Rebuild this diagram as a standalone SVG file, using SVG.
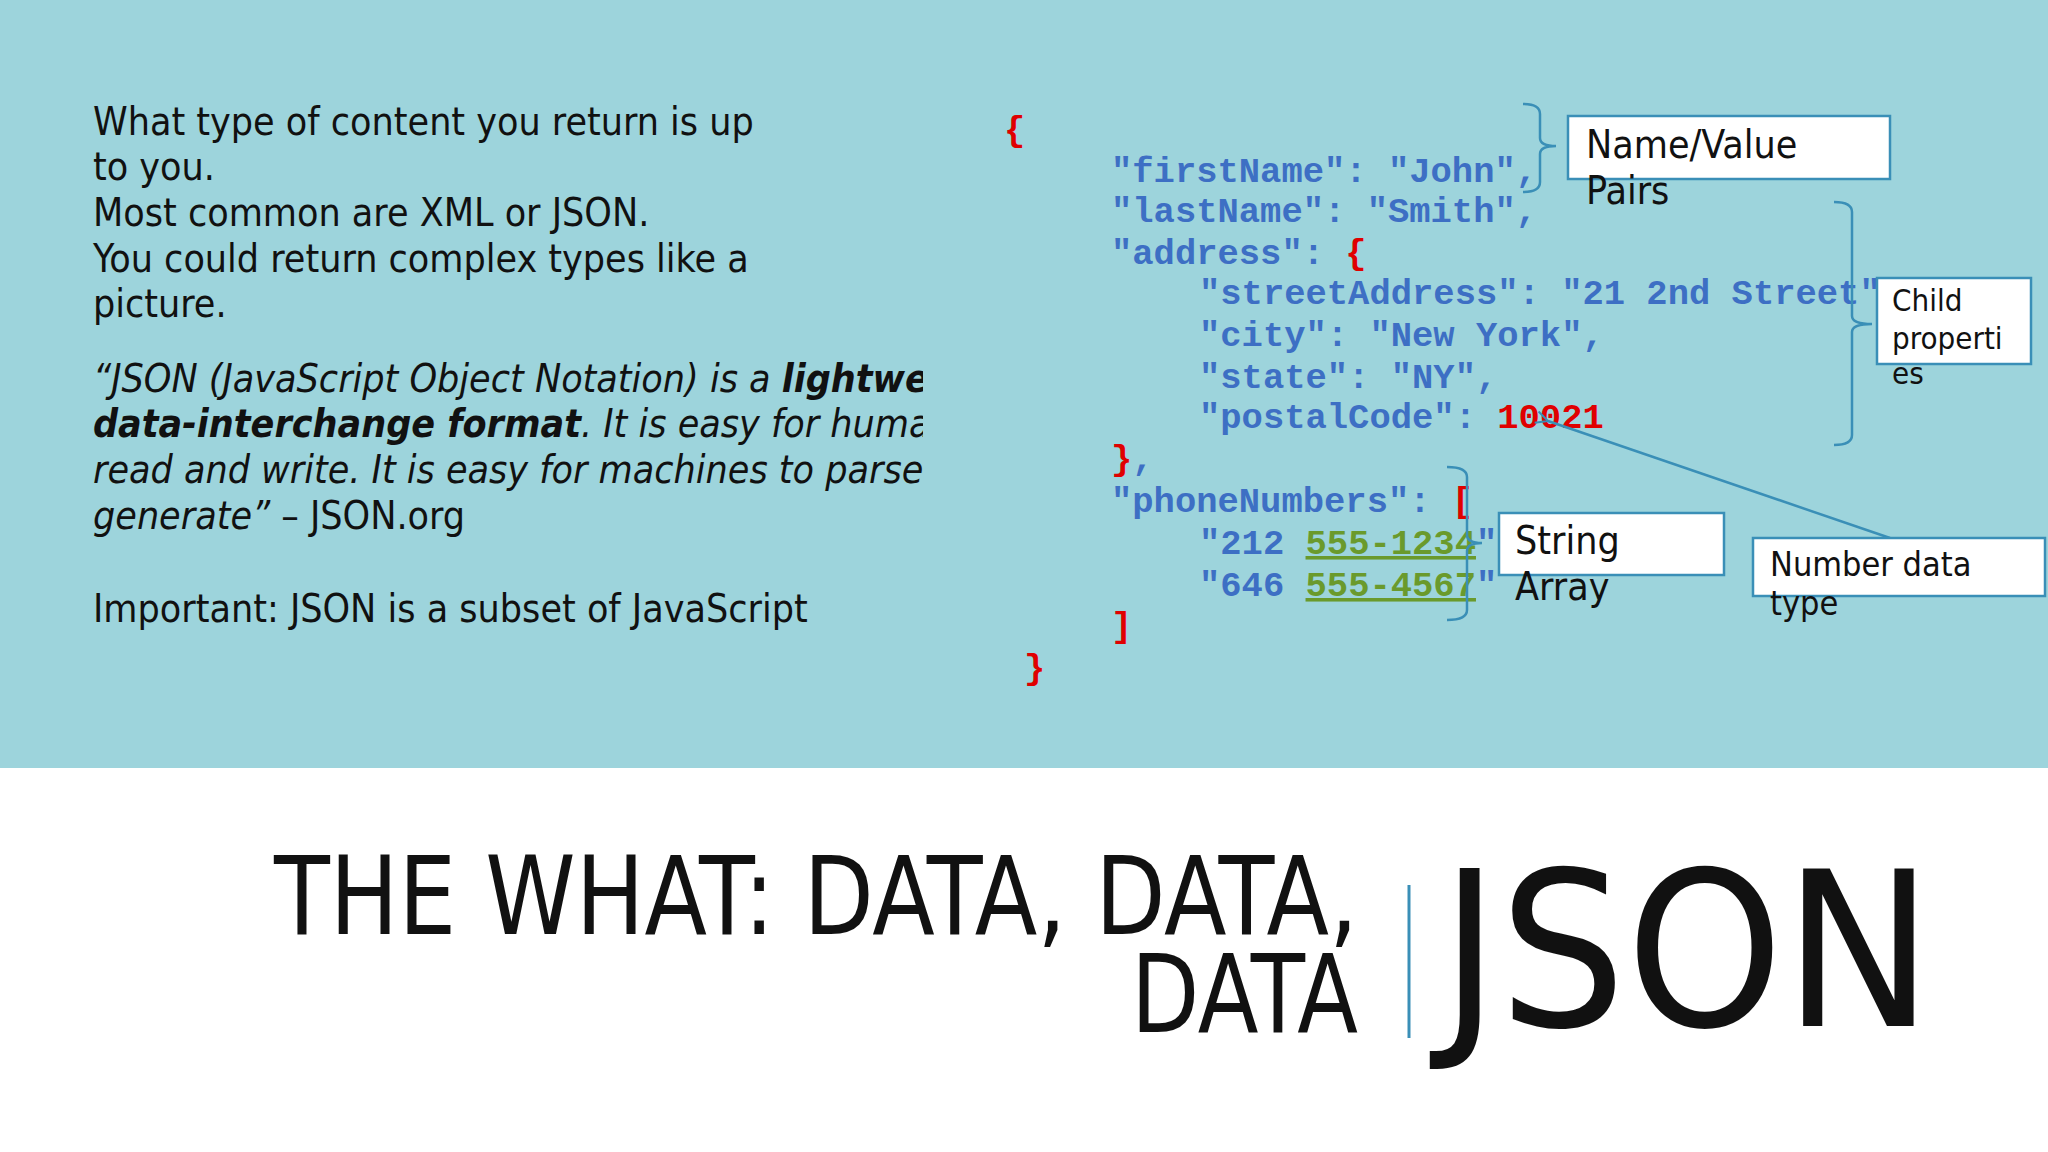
<svg xmlns="http://www.w3.org/2000/svg" width="2048" height="1152" viewBox="0 0 2048 1152">
<style>
.t{font-family:"DejaVu Sans","Liberation Sans",sans-serif;font-stretch:condensed;fill:#111}
.b{font-size:39px}
.c{font-family:"Liberation Mono","Courier New",monospace;font-weight:bold;font-size:35.5px;fill:#3d6fc4}
.r{fill:#e00000}
.g{fill:#6a9a2c}
.box{fill:#fff;stroke:#3a8fb7;stroke-width:2.5}
.br{fill:none;stroke:#3a8fb7;stroke-width:2.5}
.lb{font-size:39px}
</style>
<defs>
<marker id="ah" markerWidth="14" markerHeight="14" refX="1" refY="7" orient="auto" markerUnits="userSpaceOnUse">
<path d="M13,1 L1,7 L13,13" fill="none" stroke="#3a8fb7" stroke-width="2"/>
</marker>
<clipPath id="cl"><rect x="0" y="340" width="923" height="250"/></clipPath>
</defs>
<rect width="2048" height="768" fill="#9dd4dc"/>
<rect y="768" width="2048" height="384" fill="#fff"/>
<g id="leftText" class="t b">
<text x="93" y="135">What type of content you return is up</text>
<text x="93" y="180">to you.</text>
<text x="93" y="226">Most common are XML or JSON.</text>
<text x="93" y="272">You could return complex types like a</text>
<text x="93" y="317">picture.</text>
<g clip-path="url(#cl)">
<text x="93" y="392" font-style="italic">“JSON (JavaScript Object Notation) is a <tspan font-weight="bold">lightweight</tspan></text>
<text x="93" y="437" font-style="italic"><tspan font-weight="bold">data-interchange format</tspan>. It is easy for humans to</text>
<text x="93" y="483" font-style="italic">read and write. It is easy for machines to parse and</text>
<text x="93" y="529"><tspan font-style="italic">generate”</tspan> – JSON.org</text>
</g>
<text x="93" y="622">Important: JSON is a subset of JavaScript</text>
</g>
<g id="json" class="c">
<text x="1004" y="141" class="r">{</text>
<text x="1111" y="182">"firstName": "John",</text>
<text x="1111" y="222">"lastName": "Smith",</text>
<text x="1111" y="264">"address": <tspan class="r">{</tspan></text>
<text x="1199" y="304">"streetAddress": "21 2nd Street",</text>
<text x="1199" y="346">"city": "New York",</text>
<text x="1199" y="388">"state": "NY",</text>
<text x="1199" y="428">"postalCode": <tspan class="r">10021</tspan></text>
<text x="1111" y="470"><tspan class="r">}</tspan>,</text>
<text x="1111" y="512">"phoneNumbers": <tspan class="r">[</tspan></text>
<text x="1199" y="554">"212 <tspan class="g" text-decoration="underline">555-1234</tspan>",</text>
<text x="1199" y="596">"646 <tspan class="g" text-decoration="underline">555-4567</tspan>"</text>
<text x="1111" y="637" class="r">]</text>
<text x="1024" y="679" class="r">}</text>
</g>
<g id="connectors">
<path class="br" d="M1523,104 Q1540,104 1540,114 L1540,138 Q1540,146 1556,146 Q1540,146 1540,154 L1540,182 Q1540,192 1523,192"/>
<path class="br" d="M1834,202 Q1852,202 1852,212 L1852,316 Q1852,324 1872,324 Q1852,324 1852,332 L1852,435 Q1852,445 1834,445"/>
<path class="br" d="M1447,467 Q1467,467 1467,477 L1467,535 Q1467,543 1482,543 Q1467,543 1467,551 L1467,610 Q1467,620 1447,620"/>
<line x1="1890" y1="538" x2="1548" y2="421" stroke="#3a8fb7" stroke-width="2.5" marker-end="url(#ah)"/>
</g>
<g id="nameValue">
<rect class="box" x="1568" y="116" width="322" height="63"/>
<text class="t lb" x="1586" y="158">Name/Value</text>
<text class="t lb" x="1586" y="204">Pairs</text>
</g>
<g id="childProps">
<rect class="box" x="1877" y="278" width="154" height="86"/>
<text class="t" font-size="31" x="1892" y="311">Child</text>
<text class="t" font-size="31" x="1892" y="349">properti</text>
<text class="t" font-size="31" x="1892" y="384">es</text>
</g>
<g id="stringArray">
<rect class="box" x="1499" y="513" width="225" height="62"/>
<text class="t lb" x="1515" y="554">String</text>
<text class="t lb" x="1515" y="600">Array</text>
</g>
<g id="numberType">
<rect class="box" x="1753" y="538" width="292" height="58"/>
<text class="t" font-size="34" x="1770" y="576">Number data</text>
<text class="t" font-size="34" x="1770" y="615">type</text>
</g>
<g id="title">
<text class="t" font-size="108" x="1358" y="934" text-anchor="end" textLength="1084" lengthAdjust="spacingAndGlyphs">THE WHAT: DATA, DATA,</text>
<text class="t" font-size="108" x="1358" y="1032" text-anchor="end" textLength="227" lengthAdjust="spacingAndGlyphs">DATA</text>
<line x1="1409" y1="885" x2="1409" y2="1038" stroke="#3a8fb7" stroke-width="3"/>
<text class="t" font-size="215" x="1440" y="1026" textLength="493" lengthAdjust="spacingAndGlyphs">JSON</text>
</g>
</svg>
